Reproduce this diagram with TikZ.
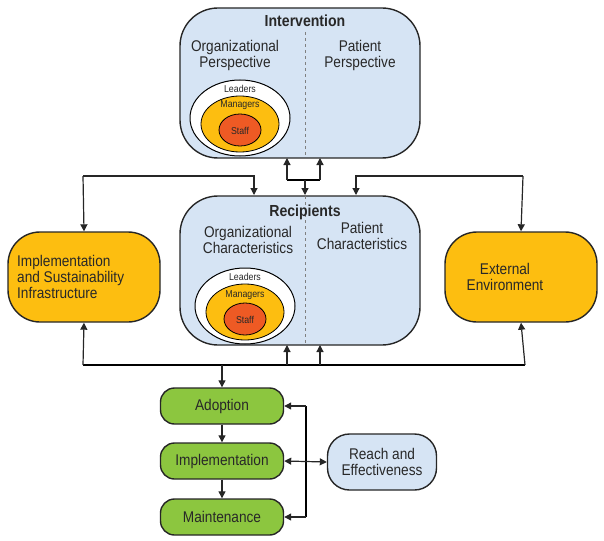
\documentclass[tikz,border=0pt]{standalone}
\usepackage{fontspec}
\setmainfont{Liberation Sans}[FakeStretch=0.88]
\usetikzlibrary{arrows.meta}
\definecolor{lblue}{RGB}{214,228,244}
\definecolor{orng}{RGB}{253,190,16}
\definecolor{redo}{RGB}{238,90,36}
\definecolor{grn}{RGB}{140,198,63}
\definecolor{txt}{RGB}{40,40,40}
\tikzset{
 box/.style={draw=black!85,line width=1.4pt,rounded corners=#1},
 arr/.style={-{Triangle[length=7pt,width=7pt]},line width=1.2pt,draw=black!85},
 darr/.style={{Triangle[length=7pt,width=7pt]}-{Triangle[length=7pt,width=7pt]},line width=1.2pt,draw=black!85},
 lbl/.style={text=txt,font=\fontsize{15.5}{16}\selectfont,align=center,inner sep=0pt},
 ttl/.style={text=txt,font=\bfseries\fontsize{16}{17}\selectfont,inner sep=0pt},
 sm/.style={text=txt,font=\fontsize{10}{10}\selectfont,inner sep=0pt},
 stage/.style={draw=black!85,line width=1.4pt,rounded corners=14pt,fill=grn,minimum width=123pt,minimum height=36pt,text=txt,font=\fontsize{15.5}{16}\selectfont},
}
\begin{document}
\begin{tikzpicture}[x=1pt,y=-1pt]
\useasboundingbox (0,0) rectangle (604,540);
% Intervention
\path[box=38pt,fill=lblue] (180,8) rectangle (420,158);
\draw[dashed,gray,line width=0.6pt] (305,32) -- (305,158);
\node[ttl] (intt) at (305,21) {Intervention};
\node[lbl] (op) at (235,55) {Organizational\\Perspective};
\node[lbl] (pp) at (360,55) {Patient\\Perspective};
\draw[line width=1pt,fill=white] (240,118) ellipse (50 and 38);
\draw[line width=0.8pt,fill=orng] (240,124) ellipse (39 and 28);
\draw[line width=0.8pt,fill=redo] (240,130) ellipse (21 and 16);
\node[sm] (l1) at (240,89) {Leaders};
\node[sm] (m1) at (240,105) {Managers};
\node[sm] (s1) at (240,131) {Staff};
% Recipients
\path[box=38pt,fill=lblue] (180,196) rectangle (420,345);
\draw[dashed,gray,line width=0.6pt] (305,196) -- (305,345);
\node[ttl] (rect) at (305,212) {Recipients};
\node[lbl] (oc) at (248,240) {Organizational\\Characteristics};
\node[lbl] (pc) at (362,236) {Patient\\Characteristics};
\draw[line width=1pt,fill=white] (245,306) ellipse (50 and 38);
\draw[line width=0.8pt,fill=orng] (245,312) ellipse (39 and 28);
\draw[line width=0.8pt,fill=redo] (245,319) ellipse (21 and 16);
\node[sm] (l2) at (245,277) {Leaders};
\node[sm] (m2) at (245,295) {Managers};
\node[sm] (s2) at (245,320) {Staff};
% side boxes
\node[box=32pt,fill=orng,minimum width=152pt,minimum height=90pt] (inf) at (84,277) {};
\node[lbl,align=left,anchor=west] (inft) at (17,277) {Implementation\\and Sustainability\\Infrastructure};
\node[box=32pt,fill=orng,minimum width=152pt,minimum height=90pt] (ext) at (521,277) {};
\node[lbl] (extt) at (505,277) {External\\Environment};
% top connectors
\coordinate (j) at (305,180);
\draw[line width=1.2pt] (287,180) -- (320,180);
\draw[arr] (287,180) -- (287,158);
\draw[arr] (320,180) -- (320,158);
\draw[arr] (j) -- (305,195);
\draw[arr] (83,176) -- (254,176) -- (254,195);
\draw[arr] (523,176) -- (356,176) -- (356,195);
\draw[arr] (83,176) -- (inf.north);
\draw[arr] (523,176) -- (ext.north);
% bottom connectors
\draw[line width=1.2pt] (83,365) -- (525,365);
\draw[arr] (83,365) -- (inf.south);
\draw[arr] (525,365) -- (ext.south);
\draw[arr] (287,365) -- (287,345);
\draw[arr] (320,365) -- (320,345);
% stages
\node[stage] (ad) at (222,406) {Adoption};
\node[stage] (im) at (222,461) {Implementation};
\node[stage] (ma) at (222,517) {Maintenance};
\node[box=22pt,fill=lblue,minimum width=109pt,minimum height=56pt,text=txt,font=\fontsize{15.5}{16}\selectfont,align=center] (re) at (382,462) {Reach and\\Effectiveness};
\draw[arr] (222,365) -- (ad.north);
\draw[arr] (ad) -- (im);
\draw[arr] (im) -- (ma);
\draw[line width=1.2pt] (306,406) -- (306,517);
\draw[arr] (306,406) -- (ad.east);
\draw[arr] (306,517) -- (ma.east);
\draw[darr] (im.east) -- (re.west);
\end{tikzpicture}
\end{document}
